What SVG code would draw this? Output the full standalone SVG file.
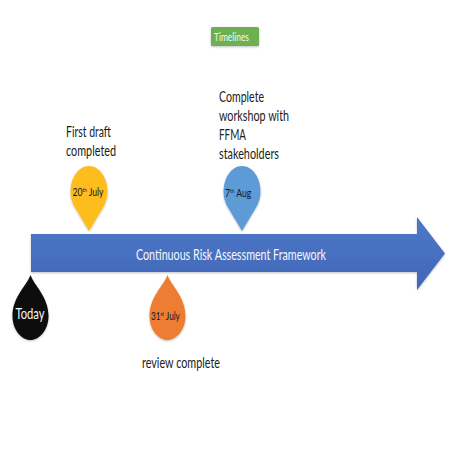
<svg xmlns="http://www.w3.org/2000/svg" width="472" height="472" viewBox="0 0 472 472">
<style>
text{font-family:Lato,"Liberation Sans",sans-serif;fill:#1c1c1c}
.w{fill:#f4f7fc}
.d{fill:#10182c;font-size:12px}
.s{font-size:6.500px}
.l{font-size:16px}
</style>
<defs>
<linearGradient id="ag" x1="0" y1="0" x2="0" y2="1"><stop offset="0" stop-color="#4d78c8"/><stop offset="1" stop-color="#4167b8"/></linearGradient>
<filter id="b" x="-10%" y="-10%" width="120%" height="125%"><feGaussianBlur in="SourceAlpha" stdDeviation="1"/><feOffset dy="1"/><feComponentTransfer><feFuncA type="linear" slope="0.25"/></feComponentTransfer><feMerge><feMergeNode/><feMergeNode in="SourceGraphic"/></feMerge></filter>
<path id="down" d="M0 0L-15 -25C-17 -29 -18.500 -34 -18.500 -39C-18.500 -54 -10 -65 0 -65C10 -65 18.500 -54 18.500 -39C18.500 -34 17 -29 15 -25Z"/>
<path id="up" d="M0 0C4 11 18 22 18 41C18 55 9 65 0 65C-9 65 -18 55 -18 41C-18 22 -4 11 0 0Z"/>
</defs>
<rect width="472" height="472" fill="#fff"/>
<g id="timelines">
<rect x="211" y="27" width="48" height="19" rx="1.500" fill="#6db04f" filter="url(#b)"/>
<text class="w" x="214" y="41" font-size="12px" textLength="35" lengthAdjust="spacingAndGlyphs">Timelines</text>
</g>
<g id="framework">
<path d="M31 234H417V217L445 253.500L417 290V272H31Z" fill="url(#ag)" filter="url(#b)"/>
<text class="w" x="136" y="260" font-size="16px" textLength="190" lengthAdjust="spacingAndGlyphs">Continuous Risk Assessment Framework</text>
</g>
<g id="july20">
<use href="#down" x="89" y="231" fill="#fdbd1e" filter="url(#b)"/>
<text class="d" transform="translate(72.500 196) scale(.72 1)">20<tspan class="s" dy="-4">th</tspan><tspan dy="4"> July</tspan></text>
</g>
<g id="aug7">
<use href="#down" x="242" y="231" fill="#5b9bd5" filter="url(#b)"/>
<text class="d" transform="translate(225 197) scale(.72 1)">7<tspan class="s" dy="-4">th</tspan><tspan dy="4"> Aug</tspan></text>
</g>
<g id="today">
<use href="#up" x="30.500" y="275" fill="#0a0a0a" filter="url(#b)"/>
<text class="w" x="15.500" y="319" font-size="16px" textLength="29" lengthAdjust="spacingAndGlyphs">Today</text>
</g>
<g id="july31">
<use href="#up" x="167.500" y="275" fill="#ed7d31" filter="url(#b)"/>
<text class="d" transform="translate(151 320) scale(.68 1)">31<tspan class="s" dy="-4">st</tspan><tspan dy="4"> July</tspan></text>
</g>
<g id="labels">
<text class="l" x="66" y="137" textLength="45" lengthAdjust="spacingAndGlyphs">First draft</text>
<text class="l" x="66" y="156" textLength="50" lengthAdjust="spacingAndGlyphs">completed</text>
<text class="l" x="219" y="102" textLength="45" lengthAdjust="spacingAndGlyphs">Complete</text>
<text class="l" x="219" y="121" textLength="70" lengthAdjust="spacingAndGlyphs">workshop with</text>
<text class="l" x="219" y="140" textLength="27" lengthAdjust="spacingAndGlyphs">FFMA</text>
<text class="l" x="219" y="159" textLength="60" lengthAdjust="spacingAndGlyphs">stakeholders</text>
<text class="l" x="142" y="368" textLength="78" lengthAdjust="spacingAndGlyphs">review complete</text>
</g>
</svg>
